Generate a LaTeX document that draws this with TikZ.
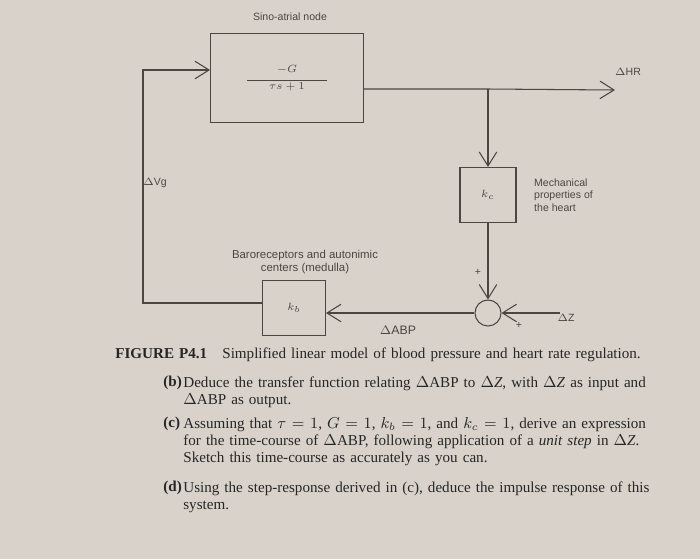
\documentclass[tikz,border=0pt]{standalone}
\usepackage{fontspec}
\setmainfont{Liberation Serif}
\setsansfont{Liberation Sans}
\usetikzlibrary{positioning,arrows.meta}
\definecolor{paper}{HTML}{D8D2CB}
\definecolor{ink}{HTML}{4A4640}
\tikzset{
  blk/.style={draw=ink,semithick,minimum width=#1},
  lbl/.style={font=\sffamily\fontsize{6}{7}\selectfont,text=ink,align=center},
  sig/.style={draw=ink,semithick,-{Straight Barb[length=8pt,width=10pt]}},
  item/.style={anchor=north west,text width=9.4cm,font=\fontsize{8.6}{9.8}\selectfont,text=black!85,inner sep=0pt}
}
\begin{document}
\begin{tikzpicture}[x=0.02cm,y=-0.02cm]
\useasboundingbox[fill=paper] (0,0) rectangle (700,559);
% blocks
\node[blk=3.06cm,minimum height=1.78cm] (sa) at (287,78) {};
\node[lbl] (satext) at (287,78) {$-G$\\[-2pt]\rule{1.6cm}{0.4pt}\\[-2pt]$\tau s+1$};
\node[lbl] (saname) at (290,17) {Sino-atrial node};
\node[blk=1.12cm,minimum height=1.1cm] (kc) at (488,195) {};
\node[lbl] at (kc) {$k_c$};
\node[lbl,align=left,anchor=west] (mech) at (528,195) {Mechanical\\properties of\\the heart};
\node[blk=1.26cm,minimum height=1.1cm] (kb) at (294,308) {};
\node[lbl] at (kb) {$k_b$};
\node[lbl,font=\sffamily\fontsize{6.5}{7.5}\selectfont] (baro) at (305,262) {Baroreceptors and autonimic\\centers (medulla)};
\node[draw=ink,semithick,circle,minimum size=0.52cm,inner sep=0pt] (sum) at (488,313) {};
% connector points
\coordinate (hr) at (615,90);
\coordinate (br) at (488,89);
\coordinate (z) at (560,313);
\coordinate (fb) at (143,303);
\coordinate (fa) at (143,70);
% signals
\draw[sig] (sa.east |- br) -- (br) -- (hr);
\draw[sig] (br) -- (kc.north);
\draw[sig] (kc.south) -- (sum.north);
\draw[sig] (z) -- (sum.east);
\draw[sig] (sum.west) -- (kb.east |- sum);
\draw[sig] (kb.west |- fb) -- (fb) -- (fa) -- (sa.west |- fa);
% labels
\node[lbl] at (628,72) {$\Delta$HR};
\node[lbl] at (155,183) {$\Delta$Vg};
\node[lbl,font=\sffamily\fontsize{7}{8}\selectfont] at (398,330) {$\Delta$ABP};
\node[lbl] at (566,318) {$\Delta$Z};
\node[lbl] at (478,272) {+};
\node[lbl] at (519,325) {+};
% caption and questions
\node[item,text width=11cm] (cap) at (115,347) {\textbf{FIGURE P4.1}\quad Simplified linear model of blood pressure and heart rate regulation.};
\node[item,text width=0.5cm] (qb) at (163,376) {\textbf{(b)}};
\node[item] (tb) at (183,376) {Deduce the transfer function relating $\Delta$ABP to $\Delta$\textit{Z}, with $\Delta$\textit{Z} as input and $\Delta$ABP as output.};
\node[item,text width=0.5cm] (qc) at (163,417) {\textbf{(c)}};
\node[item] (tc) at (183,417) {Assuming that $\tau=1$, $G=1$, $k_b=1$, and $k_c=1$, derive an expression for the time-course of $\Delta$ABP, following application of a \textit{unit step} in $\Delta$\textit{Z}. Sketch this time-course as accurately as you can.};
\node[item,text width=0.5cm] (qd) at (163,481) {\textbf{(d)}};
\node[item] (td) at (183,481) {Using the step-response derived in (c), deduce the impulse response of this system.};
\end{tikzpicture}
\end{document}
